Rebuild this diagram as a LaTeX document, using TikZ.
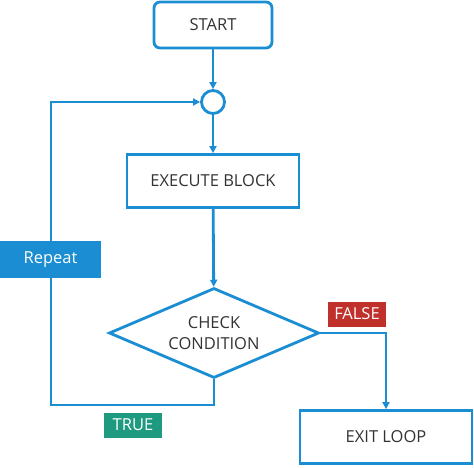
\documentclass[tikz,border=0pt]{standalone}
\usepackage{fontspec}
\setmainfont{Open Sans}
\usepackage{tikz}
\usetikzlibrary{shapes.geometric, positioning}
\usetikzlibrary{arrows.meta}
\tikzset{>={Triangle[length=7pt,width=7pt]}}
\definecolor{loopblue}{HTML}{1B8ED3}
\definecolor{falsered}{HTML}{C0312B}
\definecolor{truegreen}{HTML}{1E9A80}
\definecolor{textgray}{HTML}{333333}
\tikzset{
  box/.style={draw=loopblue, line width=2.8pt, fill=white, text=textgray, minimum width=172pt, minimum height=53pt, inner sep=0pt},
  flow/.style={draw=loopblue, line width=2.8pt},
  tag/.style={text=white, minimum height=25pt, inner sep=0pt},
}

\begin{document}
\begin{tikzpicture}[x=1pt, y=-1pt, font=\fontsize{16.5}{20}\selectfont]
			\useasboundingbox (0,0) rectangle (474,467);
			\node [box, rounded corners=6pt, minimum width=118pt, minimum height=46pt] (start) at (213,25) {START};
			\node [circle, flow, minimum size=23pt, inner sep=0pt] (join) at (213,102) {};
			\node [box] (exec) at (213,181) {EXECUTE BLOCK};
			\node [diamond, flow, fill=white, text=textgray, shape aspect=2.33, minimum width=210pt, minimum height=90pt, inner sep=0pt, align=center, font=\fontsize{16.5}{21}\selectfont] (check) at (214,333) {CHECK\\CONDITION};
			\node [box] (exit) at (386,437) {EXIT LOOP};
			\coordinate (loopbot) at (51,405);
			\coordinate (looptop) at (51,102);
			% connectors
			\draw [flow, ->] (start) -- (join);
			\draw [flow, ->] (join) -- (exec);
			\draw [flow, ->] (exec) -- (check);
			\draw [flow, ->] (check.south) |- (loopbot) -- (looptop) -- (join.west);
			\draw [flow, ->] (check.east) -| (exit.north);
			% labels
			\node [tag, fill=loopblue, minimum width=101pt, minimum height=37pt] (repeat) at (50.5,259.5) {Repeat};
			\node [tag, fill=truegreen, minimum width=58pt] (true) at (133,425) {TRUE};
			\node [tag, fill=falsered, minimum width=58pt] (false) at (357,314) {FALSE};
		\end{tikzpicture}
\end{document}
